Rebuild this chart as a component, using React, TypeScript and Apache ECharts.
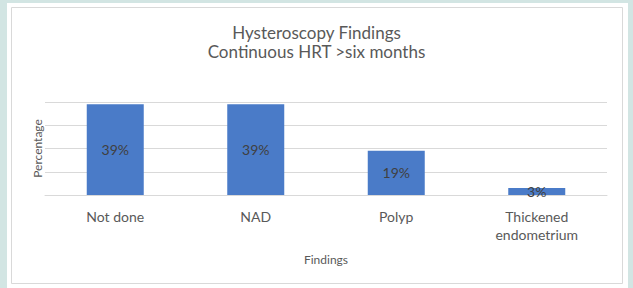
import React, { useEffect, useRef } from "react";
import * as echarts from "echarts";

const titleLines = ["Hysteroscopy Findings", "Continuous HRT >six months"];
const categories = ["Not done", "NAD", "Polyp", "Thickened\nendometrium"];
const percentages = [39, 39, 19, 3];
const yAxisName = "Percentage";
const xAxisName = "Findings";

const FONT = "Lato, 'Open Sans', sans-serif";

export default function App() {
  const ref = useRef<HTMLDivElement>(null);
  useEffect(() => {
    if (!ref.current) return;
    const chart = echarts.init(ref.current, undefined, { renderer: "svg" });
    chart.setOption({
      animation: false,
      backgroundColor: "#d2e5e3",
      graphic: [
        { type: "rect", z: -10, shape: { x: 7, y: 3, width: 621, height: 290 }, style: { fill: "#ffffff" } },
        { type: "rect", z: -9, shape: { x: 11.5, y: 7.5, width: 611, height: 276 }, style: { fill: "#ffffff", stroke: "#d9d9d9", lineWidth: 1 } },
      ],
      title: {
        text: titleLines.join("\n"),
        left: "center",
        top: 18,
        textStyle: { fontFamily: FONT, fontSize: 17, fontWeight: "normal", color: "#595959", lineHeight: 19 },
      },
      grid: { left: 45, right: 26, top: 102, bottom: 93 },
      xAxis: {
        type: "category",
        data: categories,
        name: xAxisName,
        nameLocation: "middle",
        nameGap: 58,
        nameTextStyle: { fontFamily: FONT, fontSize: 12, color: "#595959" },
        axisLine: { lineStyle: { color: "#d9d9d9" } },
        axisTick: { show: false },
        axisLabel: { fontFamily: FONT, fontSize: 14, color: "#595959", margin: 12, lineHeight: 18, interval: 0 },
      },
      yAxis: {
        type: "value",
        min: 0,
        max: 40,
        interval: 10,
        name: yAxisName,
        nameLocation: "middle",
        nameGap: 2,
        nameTextStyle: { fontFamily: FONT, fontSize: 12, color: "#595959" },
        axisLabel: { show: false },
        axisLine: { show: false },
        axisTick: { show: false },
        splitLine: { lineStyle: { color: "#d9d9d9" } },
      },
      series: [
        {
          type: "bar",
          data: percentages,
          barWidth: 57,
          itemStyle: { color: "#4a7bc8" },
          label: {
            show: true,
            position: "inside",
            formatter: "{c}%",
            fontFamily: FONT,
            fontSize: 14,
            color: "#404040",
          },
        },
      ],
    });
    return () => chart.dispose();
  }, []);
  return <div ref={ref} style={{ position: "fixed", left: 0, top: 0, width: 633, height: 288 }} />;
}
